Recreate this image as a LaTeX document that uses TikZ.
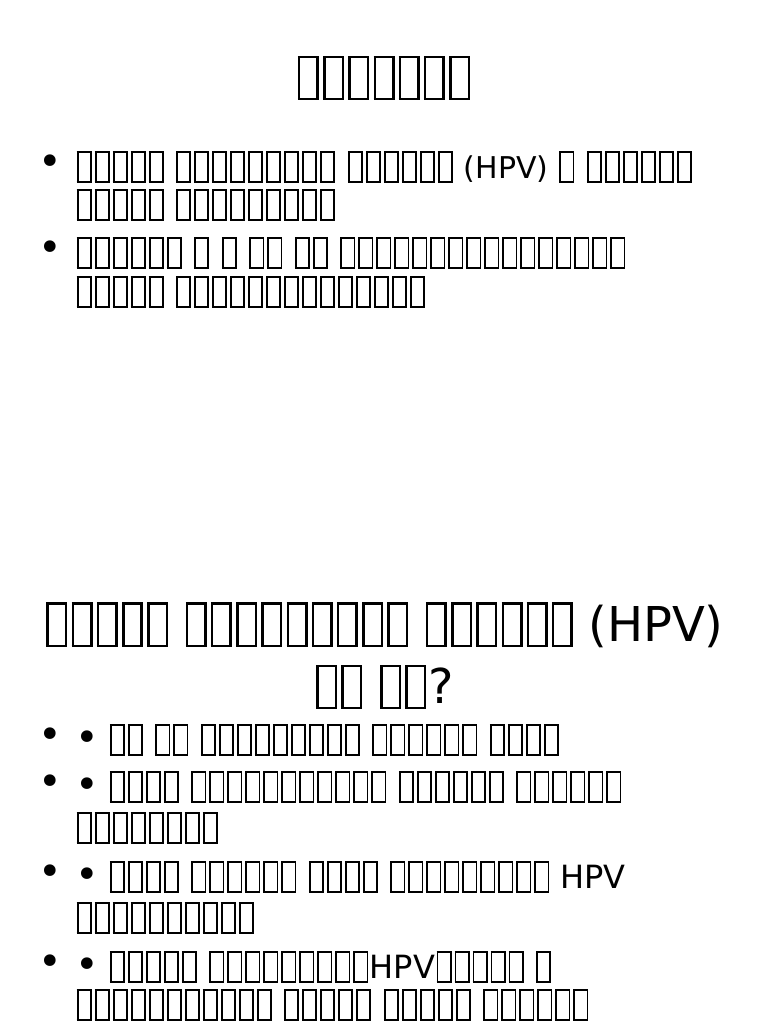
\documentclass[tikz,border=0pt]{standalone}
\usepackage{fontspec}
\setmainfont{DejaVu Sans}
\newcommand{\onebx}{\kern.05em\begingroup\fboxsep=0pt\fboxrule=.06em\framebox{\rule[-.08em]{0pt}{.95em}\hspace{.38em}}\endgroup\kern.05em}
\newcommand{\bx}[1]{\foreach \i in {1,...,#1}{\onebx}}
\newcommand{\hp}[1]{{\fontsize{#1}{#1}\selectfont HPV}}
\begin{document}
\begin{tikzpicture}[x=1pt,y=-1pt,
  ttl/.style={font=\fontsize{42}{48}\selectfont,inner sep=0},
  ln/.style={anchor=west,font=\fontsize{30}{36}\selectfont,inner sep=0},
  bl/.style={font=\fontsize{40}{40}\selectfont,inner sep=0}]
\useasboundingbox (0,0) rectangle (768,1024);
\node[ttl] (t1) at (384,78) {\bx7};
\node[bl] (b1) at (50,165) {•};
\node[ln] (l1) at (75,167) {\bx5 \bx9 \bx6 {\fontsize{30}{30}\selectfont(HPV)} \bx1 \bx6};
\node[ln] (l2) at (75,205) {\bx5 \bx9};
\node[bl] (b2) at (50,251) {•};
\node[ln] (l3) at (75,253) {\bx6 \bx1 \bx1 \bx2 \bx2 \bx{16}};
\node[ln] (l4) at (75,292) {\bx5 \bx{14}};
\node[ttl] (t2) at (384,625) {\bx5 \bx9 \bx6 {\fontsize{48}{48}\selectfont(HPV)}};
\node[ttl] (t3) at (384,687) {\bx2 \bx2{\fontsize{48}{48}\selectfont?}};
\node[bl] (b3) at (50,738) {•};
\node[ln] (m1) at (75,740) {{\fontsize{40}{40}\selectfont•} \bx2 \bx2 \bx9 \bx6 \bx4};
\node[bl] (b4) at (50,785) {•};
\node[ln] (m2) at (75,787) {{\fontsize{40}{40}\selectfont•} \bx4 \bx{11} \bx6 \bx6};
\node[ln] (m3) at (75,828) {\bx8};
\node[bl] (b5) at (50,875) {•};
\node[ln] (m4) at (75,877) {{\fontsize{40}{40}\selectfont•} \bx4 \bx6 \bx4 \bx9 \hp{32}};
\node[ln] (m5) at (75,918) {\bx{10}};
\node[bl] (b6) at (50,965) {•};
\node[ln] (m6) at (75,967) {{\fontsize{40}{40}\selectfont•} \bx5 \bx9\hp{32}\bx5 \bx1};
\node[ln] (m7) at (75,1005) {\bx{11} \bx5 \bx5 \bx6};
\end{tikzpicture}
\end{document}
